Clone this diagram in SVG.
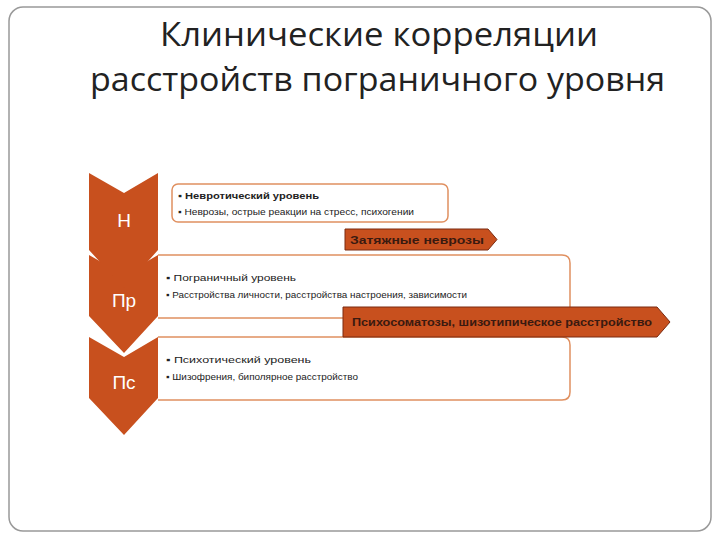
<svg xmlns="http://www.w3.org/2000/svg" width="720" height="540" viewBox="0 0 720 540">
<style>
.ch{fill:#c8501e}
.bx{fill:#fff;stroke:#e09060;stroke-width:1.5}
.t{font-family:"Liberation Sans",sans-serif;font-size:9.5px;fill:#222}
.cl{font-family:"Liberation Sans",sans-serif;font-size:19px;fill:#fff;text-anchor:middle}
.ar{fill:#c8501e;stroke:#7a2a10;stroke-width:1}
.at{font-family:"Liberation Sans",sans-serif;font-size:11px;font-weight:bold;fill:#3a1a10}
</style>
<rect width="720" height="540" fill="#fff"/>
<rect x="9" y="7" width="702" height="524" rx="14" fill="#fff" stroke="#999" stroke-width="1.5"/>
<text x="160" y="46" textLength="438" lengthAdjust="spacingAndGlyphs" font-family="Open Sans,sans-serif" font-size="32" fill="#222">Клинические корреляции</text>
<text x="90" y="91" textLength="575" lengthAdjust="spacingAndGlyphs" font-family="Open Sans,sans-serif" font-size="32" fill="#222">расстройств пограничного уровня</text>
<g id="connectors"></g>
<g id="n3">
<path class="ch" d="M89,337 L124,357 L158,337 L158,398 L124,435 L89,398 Z"/>
<path class="bx" d="M158,337 H562 Q570,337 570,345 V392 Q570,400 562,400 H158"/>
<text class="cl" x="124" y="389">Пс</text>
<text class="t" x="166" y="363" textLength="145" lengthAdjust="spacingAndGlyphs">▪ Психотический уровень</text>
<text class="t" x="166" y="380" textLength="192" lengthAdjust="spacingAndGlyphs">▪ Шизофрения, биполярное расстройство</text>
</g>
<g id="n2">
<path class="ch" d="M89,255 L124,275 L158,255 L158,316 L124,353 L89,316 Z"/>
<path class="bx" d="M158,255 H562 Q570,255 570,263 V310 Q570,318 562,318 H158"/>
<text class="cl" x="124" y="307">Пр</text>
<text class="t" x="166" y="281" textLength="130" lengthAdjust="spacingAndGlyphs">▪ Пограничный уровень</text>
<text class="t" x="166" y="298" textLength="301" lengthAdjust="spacingAndGlyphs">▪ Расстройства личности, расстройства настроения, зависимости</text>
</g>
<g id="n1">
<path class="ch" d="M89,173 L124,193 L158,173 L158,250 L124,288 L89,250 Z"/>
<rect class="bx" x="172" y="184" width="276" height="38" rx="6"/>
<text class="cl" x="124" y="227">Н</text>
<text class="t" x="178" y="199" font-weight="bold" textLength="141" lengthAdjust="spacingAndGlyphs">▪ Невротический уровень</text>
<text class="t" x="178" y="215" textLength="236" lengthAdjust="spacingAndGlyphs">▪ Неврозы, острые реакции на стресс, психогении</text>
</g>
<g id="a1">
<path class="ar" d="M345,229 H488 L497,239.5 L488,250 H345 Z"/>
<text class="at" x="350" y="243.5" textLength="134" lengthAdjust="spacingAndGlyphs">Затяжные неврозы</text>
</g>
<g id="a2">
<path class="ar" d="M343,307 H657 L670,322 L657,337 H343 Z"/>
<text class="at" x="352" y="326" textLength="300" lengthAdjust="spacingAndGlyphs">Психосоматозы, шизотипическое расстройство</text>
</g>
</svg>
